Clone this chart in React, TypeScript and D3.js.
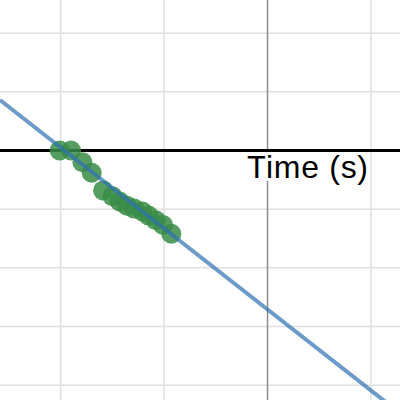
import React from "react";
import * as d3 from "d3";

const pointX = [-2.01, -1.9, -1.79, -1.7, -1.59, -1.5, -1.43, -1.36, -1.29, -1.21, -1.15, -1.08, -1.01, -0.93];
const pointY = [0.0, 0.0, -0.2, -0.38, -0.68, -0.78, -0.87, -0.94, -0.99, -1.04, -1.11, -1.19, -1.27, -1.42];
const fitSlope = -1.38;
const fitIntercept = -2.71;
const xGrid = [-2, -1, 1];
const yGrid = [2, 1, -1, -2, -3, -4];
const axisLabel = "Time (s)";

const W = 400;
const H = 400;

export default function App() {
  const x = d3.scaleLinear().domain([-2.587, 1.281]).range([0, W]);
  const y = d3.scaleLinear().domain([2.565, -4.253]).range([0, H]);
  const [x0, x1] = x.domain();
  const line = d3
    .line<number>()
    .x((d) => x(d))
    .y((d) => y(fitIntercept + fitSlope * d));

  return (
    <svg
      width={W}
      height={H}
      style={{ position: "absolute", left: 0, top: 0, background: "#fff" }}
    >
      <rect width={W} height={H} fill="#fff" />
      <g stroke="#e0e0e0" strokeWidth={1.5}>
        {xGrid.map((v) => (
          <line key={"x" + v} x1={x(v)} x2={x(v)} y1={0} y2={H} />
        ))}
        {yGrid.map((v) => (
          <line key={"y" + v} x1={0} x2={W} y1={y(v)} y2={y(v)} />
        ))}
      </g>
      <line x1={x(0)} x2={x(0)} y1={0} y2={H} stroke="#8c8c8c" strokeWidth={1.5} />
      <line x1={0} x2={W} y1={y(0)} y2={y(0)} stroke="#000" strokeWidth={3} />
      <text
        x={247}
        y={178}
        fontFamily="'Liberation Sans', Arial, sans-serif"
        fontSize={32}
        textLength={121}
        lengthAdjust="spacing"
        fill="#000"
        stroke="#fff"
        strokeWidth={6}
        strokeLinejoin="round"
        style={{ paintOrder: "stroke" }}
      >
        {axisLabel}
      </text>
      <g>
        {pointX.map((px, i) => (
          <circle
            key={i}
            cx={x(px)}
            cy={y(pointY[i])}
            r={10}
            fill="#388c46"
            fillOpacity={0.85}
          />
        ))}
      </g>
      <path
        d={line([x0, x1]) || ""}
        fill="none"
        stroke="#2d70b3"
        strokeOpacity={0.7}
        strokeWidth={4}
      />
    </svg>
  );
}
